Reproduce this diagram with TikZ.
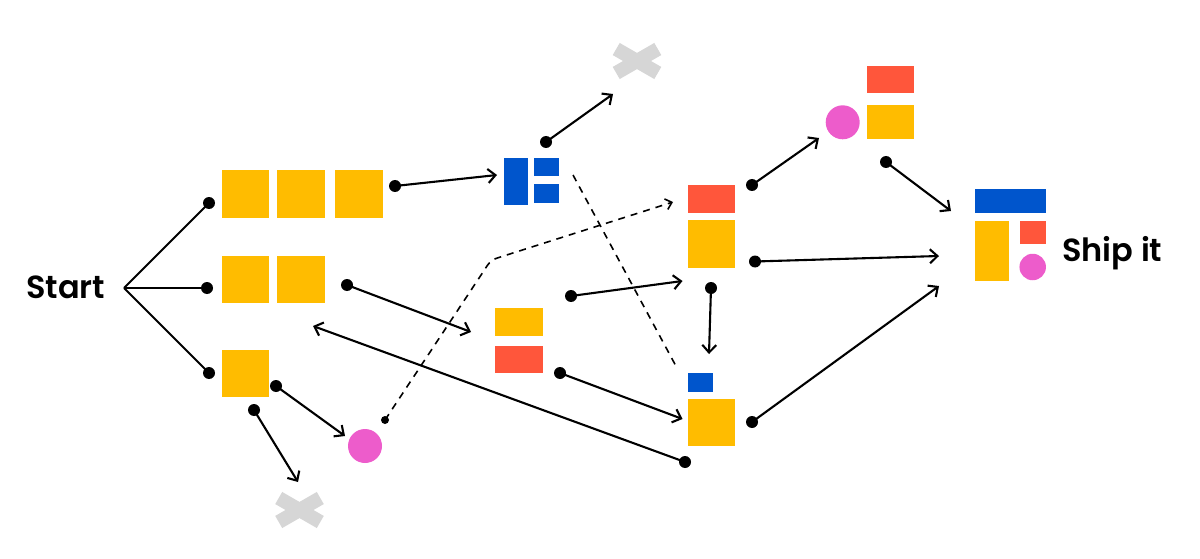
\documentclass[tikz,border=0pt]{standalone}
\usepackage{fontspec}
\setmainfont{Poppins}[BoldFont={Poppins SemiBold}]
\usetikzlibrary{arrows.meta}
\definecolor{cy}{HTML}{FFBC00}
\definecolor{cr}{HTML}{FF563B}
\definecolor{cb}{HTML}{0055CC}
\definecolor{cp}{HTML}{ED5CCB}
\definecolor{cg}{HTML}{D6D6D6}
\tikzset{
  blockn/.style={inner sep=0pt,outer sep=0pt,draw=none,rectangle},
  roundn/.style={circle,inner sep=0pt,outer sep=0pt,draw=none,fill=cp},
  dotn/.style={circle,fill=black,inner sep=0pt,outer sep=0pt,minimum size=12pt},
  smalldot/.style={circle,fill=black,inner sep=0pt,outer sep=0pt,minimum size=8pt},
  barn/.style={rectangle,fill=cg,inner sep=0pt,outer sep=0pt,minimum width=48pt,minimum height=14pt},
  link/.style={line width=2.1pt,black},
  arr/.style={link,-{Straight Barb[length=7.5pt,width=14pt,line width=2.1pt]}},
  darr/.style={line width=1.6pt,black,dash pattern=on 7pt off 6pt},
  label/.style={inner sep=0pt,font=\fontsize{32}{36}\selectfont\bfseries,anchor=base west}
}
\newcommand\blk[6]{%
  \pgfmathsetmacro\bw{#4-#2}\pgfmathsetmacro\bh{#5-#3}%
  \pgfmathsetmacro\bx{(#4+#2)/2}\pgfmathsetmacro\by{(#5+#3)/2}%
  \node[blockn,fill=#6,minimum width=\bw pt,minimum height=\bh pt] (#1) at (\bx,\by) {};}
\begin{document}
\begin{tikzpicture}[x=1pt,y=-1pt]
\useasboundingbox (0,0) rectangle (1200,559);
% labels
\node[label] (start) at (26,298) {Start};
\node[label] (ship) at (1062,261.5) {Ship it};
% blocks
\blk{a1}{221.5}{170}{269}{218}{cy}
\blk{a2}{277}{170}{325}{218}{cy}
\blk{a3}{335}{170}{382.5}{218}{cy}
\blk{b1}{221.5}{256}{269}{303}{cy}
\blk{b2}{277}{256}{325}{303}{cy}
\blk{c1}{221.5}{350}{269}{397}{cy}
\blk{d1}{503.5}{158}{528}{205}{cb}
\blk{d2}{534}{158}{559}{176.5}{cb}
\blk{d3}{534}{184}{559}{203}{cb}
\blk{e1}{495}{308}{542.5}{335.5}{cy}
\blk{e2}{495}{346}{542.5}{373}{cr}
\blk{f1}{687.5}{185}{735}{212.5}{cr}
\blk{f2}{687.5}{220}{735}{268}{cy}
\blk{g1}{687.5}{373}{712.5}{392}{cb}
\blk{g2}{687.5}{399}{735}{446}{cy}
\blk{h1}{866.5}{66}{914}{93.5}{cr}
\blk{h2}{866.5}{105.5}{914}{139.5}{cy}
\blk{i1}{975}{189}{1046}{212.5}{cb}
\blk{i2}{975}{220.5}{1008.5}{280.5}{cy}
\blk{i3}{1019.5}{220.5}{1045.5}{243.5}{cr}
\node[roundn,minimum size=34pt] (p1) at (365,446) {};
\node[roundn,minimum size=34pt] (p2) at (842.7,122.3) {};
\node[roundn,minimum size=26.5pt] (p3) at (1032.7,267) {};
% crosses
\node[barn,rotate=30] (x1a) at (637,61) {};
\node[barn,rotate=-30] (x1b) at (637,61) {};
\node[barn,rotate=30] (x2a) at (299.5,510) {};
\node[barn,rotate=-30] (x2b) at (299.5,510) {};
% dots
\coordinate (apex) at (124,288);
\node[dotn] (s1) at (209,203) {};
\node[dotn] (s2) at (207,288) {};
\node[dotn] (s3) at (209,373) {};
\node[dotn] (t1) at (395,186) {};
\node[dotn] (t2) at (347,285) {};
\node[dotn] (t3) at (276,386) {};
\node[dotn] (t4) at (254,410) {};
\node[dotn] (t5) at (685,462) {};
\node[dotn] (t6) at (546,142) {};
\node[dotn] (t7) at (571,296) {};
\node[dotn] (t8) at (560,373) {};
\node[dotn] (t9) at (711,288) {};
\node[dotn] (t10) at (752,185) {};
\node[dotn] (t11) at (755,261.5) {};
\node[dotn] (t12) at (752,422) {};
\node[dotn] (t13) at (886,162) {};
\node[smalldot] (u1) at (385,420) {};
% free ends
\coordinate (e-t1) at (497,175);
\coordinate (e-t2) at (471,332);
\coordinate (e-t3) at (345,436);
\coordinate (e-t4) at (298,482);
\coordinate (e-t5) at (313,326);
\coordinate (e-t6) at (613,94);
\coordinate (e-t7) at (682.5,281);
\coordinate (e-t8) at (682.5,419);
\coordinate (e-t9) at (709,354);
\coordinate (e-t10) at (819,138);
\coordinate (e-t11) at (939,256);
\coordinate (e-t12) at (939,286);
\coordinate (e-t13) at (951,211);
\coordinate (e-u1) at (673,202);
\coordinate (bend) at (491,260);
\coordinate (v1) at (573,175);
\coordinate (v2) at (677,368);
% links
\draw[link] (apex) -- (s1.center);
\draw[link] (apex) -- (s2.center);
\draw[link] (apex) -- (s3.center);
\foreach \n in {t1,t2,t3,t4,t5,t6,t7,t8,t9,t10,t11,t12,t13}
  \draw[arr] (\n.center) -- (e-\n);
\draw[darr,-{Straight Barb[length=6pt,width=11pt,line width=1.6pt]},rounded corners=6pt] (u1.center) -- (bend) -- (e-u1);
\draw[darr] (v1) -- (v2);
\end{tikzpicture}
\end{document}
